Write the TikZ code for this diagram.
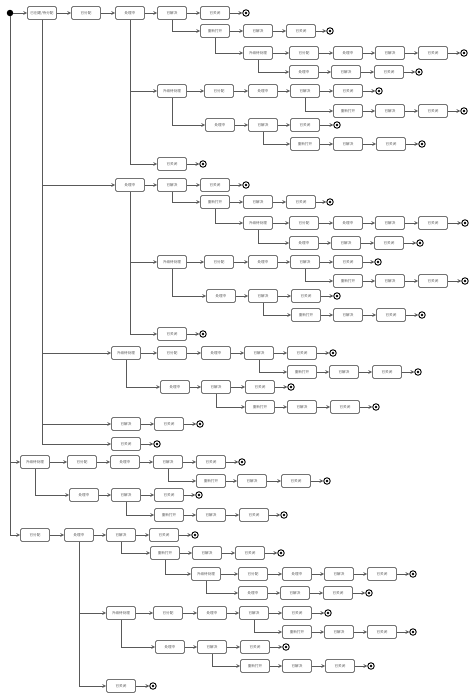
\documentclass[tikz,border=0pt]{standalone}
\usepackage{fontspec}
\newfontfamily\cjk{Noto Sans CJK SC}

% state names
\newcommand\Lcj{已创建/待分配}
\newcommand\Lfp{已分配}
\newcommand\Lcl{处理中}
\newcommand\Ljj{已解决}
\newcommand\Lgb{已关闭}
\newcommand\Lck{重新打开}
\newcommand\Lsj{升级待处理}

\tikzset{
  state/.style={draw=black!55,rounded corners=1.5pt,minimum width=29pt,minimum height=13pt,
                inner sep=0pt,fill=white,text=black!65,line width=0.8pt,
                font=\cjk\fontsize{3.6}{4}\selectfont},
  final/.style={circle,draw,line width=0.9pt,minimum size=6.5pt,inner sep=0pt,
                path picture={\fill (path picture bounding box.center) circle (1.4pt);}},
  flow/.style={->,draw=black!65,line width=0.7pt}
}

% #1 row, #2 y, #3 list x/label, #4 x of end mark
\newcommand\staterow[4]{%
  \foreach \x/\lab [count=\i] in {#3} {
    \node[state] (n#1-\i) at (\x,#2) {\lab};
    \ifnum\i>1
      \pgfmathtruncatemacro\j{\i-1}
      \draw[flow] (n#1-\j) -- (n#1-\i);
    \fi
    \xdef\lastnode{n#1-\i}
  }
  \node[final] (e#1) at (#4,#2) {};
  \draw[flow] (\lastnode) -- (e#1);
}

\begin{document}
\begin{tikzpicture}[>=stealth,x=1pt,y=-1pt]
  \useasboundingbox (0,0) rectangle (474,699);
  \node[circle,fill,inner sep=0pt,minimum size=6.5pt] (start) at (10,13) {};

  \staterow{1}{13}{42/\Lcj,86/\Lfp,130/\Lcl,172/\Ljj,215/\Lgb}{246}
  \staterow{2}{31}{215/\Lck,258/\Ljj,301/\Lgb}{330}
  \staterow{3}{53}{258/\Lsj,304/\Lfp,348/\Lcl,390/\Ljj,433/\Lgb}{464}
  \staterow{4}{72}{304/\Lcl,346/\Ljj,389/\Lgb}{419}
  \staterow{5}{91}{172/\Lsj,219/\Lfp,263/\Lcl,305/\Ljj,348/\Lgb}{379}
  \staterow{6}{111}{348/\Lck,390/\Ljj,433/\Lgb}{464}
  \staterow{7}{125}{220/\Lcl,263/\Ljj,305/\Lgb}{337}
  \staterow{8}{144}{305/\Lck,348/\Ljj,391/\Lgb}{422}
  \staterow{9}{164}{172/\Lgb}{203}
  \staterow{10}{185}{130/\Lcl,172/\Ljj,215/\Lgb}{246}
  \staterow{11}{202}{215/\Lck,258/\Ljj,301/\Lgb}{330}
  \staterow{12}{223}{258/\Lsj,304/\Lfp,348/\Lcl,390/\Ljj,433/\Lgb}{465}
  \staterow{13}{243}{304/\Lcl,346/\Ljj,389/\Lgb}{420}
  \staterow{14}{262}{172/\Lsj,219/\Lfp,263/\Lcl,305/\Ljj,348/\Lgb}{378}
  \staterow{15}{281}{348/\Lck,390/\Ljj,433/\Lgb}{465}
  \staterow{16}{296}{221/\Lcl,263/\Ljj,306/\Lgb}{337}
  \staterow{17}{315}{306/\Lck,348/\Ljj,391/\Lgb}{422}
  \staterow{18}{334}{172/\Lgb}{203}
  \staterow{19}{353}{126/\Lsj,172/\Lfp,216/\Lcl,259/\Ljj,302/\Lgb}{333}
  \staterow{20}{372}{302/\Lck,344/\Ljj,387/\Lgb}{418}
  \staterow{21}{387}{175/\Lcl,216/\Ljj,260/\Lgb}{291}
  \staterow{22}{407}{260/\Lck,302/\Ljj,345/\Lgb}{376}
  \staterow{23}{424}{126/\Ljj,169/\Lgb}{200}
  \staterow{24}{444}{126/\Lgb}{157}
  \staterow{25}{462}{35/\Lsj,82/\Lfp,125/\Lcl,168/\Ljj,211/\Lgb}{242}
  \staterow{26}{481}{211/\Lck,252/\Ljj,296/\Lgb}{327}
  \staterow{27}{495}{84/\Lcl,126/\Ljj,169/\Lgb}{199}
  \staterow{28}{515}{169/\Lck,211/\Ljj,254/\Lgb}{284}
  \staterow{29}{535}{35/\Lfp,79/\Lcl,121/\Ljj,164/\Lgb}{195}
  \staterow{30}{553}{165/\Lck,207/\Ljj,250/\Lgb}{281}
  \staterow{31}{574}{206/\Lsj,253/\Lfp,297/\Lcl,339/\Ljj,382/\Lgb}{413}
  \staterow{32}{593}{253/\Lcl,295/\Ljj,338/\Lgb}{369}
  \staterow{33}{613}{121/\Lsj,168/\Lfp,212/\Lcl,254/\Ljj,297/\Lgb}{328}
  \staterow{34}{632}{297/\Lck,339/\Ljj,382/\Lgb}{413}
  \staterow{35}{647}{170/\Lcl,212/\Ljj,255/\Lgb}{286}
  \staterow{36}{666}{255/\Lck,297/\Ljj,340/\Lgb}{371}
  \staterow{37}{686}{121/\Lgb}{153}

  \draw[flow] (start) -- (n1-1);
  % branches
  \foreach \p/\c in {start/n25-1,start/n29-1,
      n1-1/n10-1,n1-1/n19-1,n1-1/n23-1,n1-1/n24-1,
      n1-3/n5-1,n1-3/n9-1,n1-4/n2-1,n2-1/n3-1,n3-1/n4-1,
      n5-4/n6-1,n5-1/n7-1,n7-2/n8-1,
      n10-2/n11-1,n11-1/n12-1,n12-1/n13-1,n10-1/n14-1,n10-1/n18-1,
      n14-4/n15-1,n14-1/n16-1,n16-2/n17-1,
      n19-4/n20-1,n19-1/n21-1,n21-2/n22-1,
      n25-4/n26-1,n25-1/n27-1,n27-2/n28-1,
      n29-3/n30-1,n30-1/n31-1,n31-1/n32-1,n29-2/n33-1,n29-2/n37-1,
      n33-4/n34-1,n33-1/n35-1,n35-2/n36-1}
    \draw[flow] (\p) |- (\c);
\end{tikzpicture}
\end{document}
